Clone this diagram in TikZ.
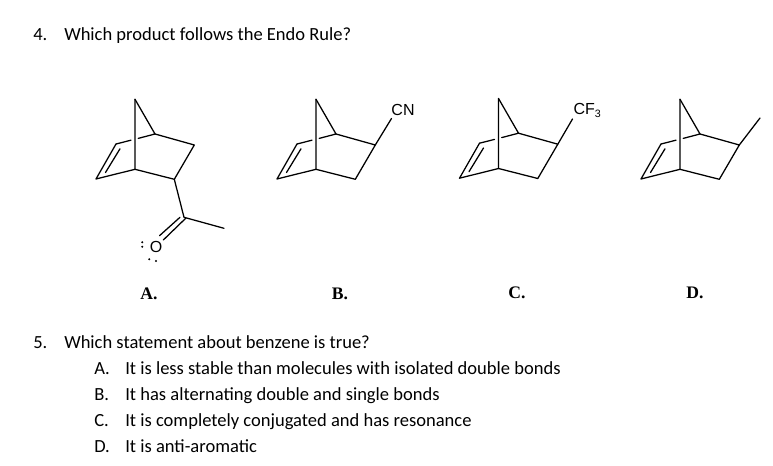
\documentclass[tikz,border=0pt]{standalone}
\usepackage{fontspec}
\setmainfont{Carlito}
\newfontfamily\atomfont{Liberation Sans}
\newfontfamily\choicefont{Liberation Serif}
\tikzset{
  x=0.75pt, y=-0.75pt,
  bond/.style={line width=0.95pt, line cap=round, line join=round},
  question/.style={anchor=base west, inner sep=0pt, font=\fontsize{13.9}{16}\selectfont},
  choice/.style={anchor=base, inner sep=0pt, font=\choicefont\bfseries\fontsize{13.2}{15}\selectfont},
  atom/.style={inner sep=0pt, font=\atomfont\fontsize{12}{14}\selectfont},
  lonepair/.style={circle, fill=black, inner sep=0pt, minimum size=1.7pt},
  pics/norbornene/.style={code={
    \coordinate (-apex) at (0,0);
    \coordinate (-back) at (20,34.7);
    \coordinate (-right) at (59.3,45.7);
    \coordinate (-low) at (39.3,80);
    \coordinate (-front) at (0,70);
    \coordinate (-left) at (-39,79.7);
    \coordinate (-up) at (-19,44.7);
    \coordinate (-dblA) at (-29.5,73.2);
    \coordinate (-dblB) at (-15,49.5);
    \draw[bond] (-apex) -- (-front) -- (-left) -- (-up);
    \draw[bond] (-up) -- (-4,40.9);
    \draw[bond] (3.2,39.1) -- (-back) -- (-apex);
    \draw[bond] (-back) -- (-right) -- (-low) -- (-front);
    \draw[bond] (-dblA) -- (-dblB);
  }}
}
\begin{document}
\begin{tikzpicture}
\useasboundingbox (0,0) rectangle (773,466);
\node[question] (q4) at (33,41) {4.};
\node[question] (q4text) at (64,41) {Which product follows the Endo Rule?};
% molecules
\pic (ma) at (135,99.3) {norbornene};
\pic (mb) at (316,99.3) {norbornene};
\pic (mc) at (498.5,98.5) {norbornene};
\pic (md) at (680,99.3) {norbornene};
% A: acetyl group, drawn on the lower carbon
\coordinate (acyl) at (184,217.3);
\coordinate (methyl) at (224,228.3);
\node[atom] (oxy) at (156,246.7) {O};
\draw[bond] (ma-low) -- (acyl) -- (methyl);
\draw[bond] (186,218) -- (163.3,240);
\draw[bond] (180,217.3) -- (159.5,235.7);
\node[lonepair] (lpa) at (142.3,242.3) {};
\node[lonepair] (lpb) at (142.3,246.7) {};
\node[lonepair] (lpc) at (149.3,259.3) {};
\node[lonepair] (lpd) at (156,261) {};
% B, C, D: substituents
\node[atom] (cn) at (403,110) {CN};
\draw[bond] (mb-right) -- (391.5,118.5);
\node[atom] (cf) at (587.5,110.5) {CF\textsubscript{3}};
\draw[bond] (mc-right) -- (572.5,119);
\coordinate (meth) at (760,118);
\draw[bond] (md-right) -- (meth);
% labels
\node[choice] (la) at (149,299) {A.};
\node[choice] (lb) at (340,299) {B.};
\node[choice] (lc) at (517,298) {C.};
\node[choice] (ld) at (695,298) {D.};
% question 5
\node[question] (q5) at (33,348) {5.};
\node[question] (q5text) at (64,348) {Which statement about benzene is true?};
\node[question] (a5) at (94,374) {A.};
\node[question] (a5text) at (125,374) {It is less stable than molecules with isolated double bonds};
\node[question] (b5) at (94,400.5) {B.};
\node[question] (b5text) at (125,400.5) {It has alternating double and single bonds};
\node[question] (c5) at (94,426.5) {C.};
\node[question] (c5text) at (125,426.5) {It is completely conjugated and has resonance};
\node[question] (d5) at (94,452.5) {D.};
\node[question] (d5text) at (125,452.5) {It is anti-aromatic};
\end{tikzpicture}
\end{document}
